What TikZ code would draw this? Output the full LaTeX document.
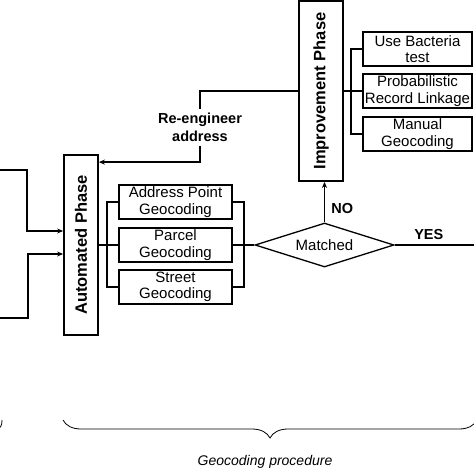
\documentclass[tikz,border=0pt]{standalone}
\usepackage{fontspec}
\setmainfont{Liberation Sans}
\usetikzlibrary{shapes.geometric,arrows.meta,decorations.pathreplacing}

\begin{document}
\begin{tikzpicture}[x=1pt,y=-1pt]
    \tikzstyle{every node}+=[inner sep=0pt, font=\fontsize{15pt}{16.5pt}\selectfont]
    \tikzstyle{phasebox}=[draw=black, line width=1.8pt, minimum width=34pt, minimum height=180pt]
    \tikzstyle{phasetext}=[rotate=90, font=\bfseries\fontsize{16.5pt}{18pt}\selectfont]
    \tikzstyle{methodbox}=[draw=black, line width=1.8pt, minimum height=34pt, align=center]
    \tikzstyle{link}=[black, line width=1.7pt]
    \tikzstyle{arr}=[black, line width=1.7pt, -{Stealth[length=6pt,width=5pt]}]
    \useasboundingbox (0,0) rectangle (474,474);
    \coordinate (inA) at (0,170);
    \coordinate (inB) at (0,318);
    \coordinate (yesend) at (476,245);
    \coordinate (braceL) at (63,420);
    \coordinate (braceR) at (477,420);
    \node [phasebox] (auto) at (81,245) {};
    \node [phasetext] (autotxt) at (auto) {Automated Phase};
    \node [phasebox, minimum width=44pt] (impr) at (321,91) {};
    \node [phasetext] (imprtxt) at (impr) {Improvement Phase};
    \node [methodbox, minimum width=113pt] (addr) at (175.5,202) {Address Point\\Geocoding};
    \node [methodbox, minimum width=113pt] (parcel) at (175.5,245) {Parcel\\Geocoding};
    \node [methodbox, minimum width=113pt] (street) at (175.5,287) {Street\\Geocoding};
    \node [methodbox, minimum width=109pt] (bact) at (417.5,49) {Use Bacteria\\test};
    \node [methodbox, minimum width=109pt] (prl) at (417.5,91) {Probabilistic\\Record Linkage};
    \node [methodbox, minimum width=109pt] (manual) at (417.5,134) {Manual\\Geocoding};
    \node [draw=black, line width=1.3pt, diamond, aspect=3.2, minimum width=139pt, minimum height=44pt] (match) at (324.5,245) {Matched};
    \node [align=center, font=\bfseries\fontsize{14.5pt}{18pt}\selectfont] (reeng) at (200,127) {Re-engineer\\address};
    \draw [arr] (inA) -- ++(27,0) |- ([yshift=14pt]auto.west);
    \draw [arr] (inB) -- ++(28,0) |- ([yshift=-9pt]auto.west);
    \draw [link] (impr.west) -| ([yshift=3pt]reeng.north);
    \draw [arr] ([yshift=-4pt]reeng.south) |- ([yshift=-8pt]auto.north east);
    \draw [link] (auto.east) -- (parcel.west);
    \draw [link] (addr.west) -- ++(-11,0) |- (street.west);
    \draw [link] (addr.east) -- ++(11,0) |- (street.east);
    \draw [link] (parcel.east) -- (match.west);
    \draw [arr] (match.north) -- node [right=6pt, pos=0.33, font=\bfseries\fontsize{14.5pt}{16.5pt}\selectfont] (nolbl) {NO} (match.north |- impr.south);
    \draw [link] (match.east) -- node [above=5pt, pos=0.42, font=\bfseries\fontsize{14.5pt}{16.5pt}\selectfont] (yeslbl) {YES} (yesend);
    \draw [link] (impr.east) -- (prl.west);
    \draw [link] (bact.west) -- ++(-11,0) |- (manual.west);
    \draw [black, line width=0.8pt, decorate, decoration={brace, mirror, amplitude=18pt}] (braceL) -- (braceR);
    \draw [black, line width=0.8pt] (-3,429) .. controls (1,428) and (2,425) .. (2,420);
    \node [font=\itshape\fontsize{14pt}{16pt}\selectfont] (proc) at (265,462) {Geocoding procedure};
\end{tikzpicture}
\end{document}
